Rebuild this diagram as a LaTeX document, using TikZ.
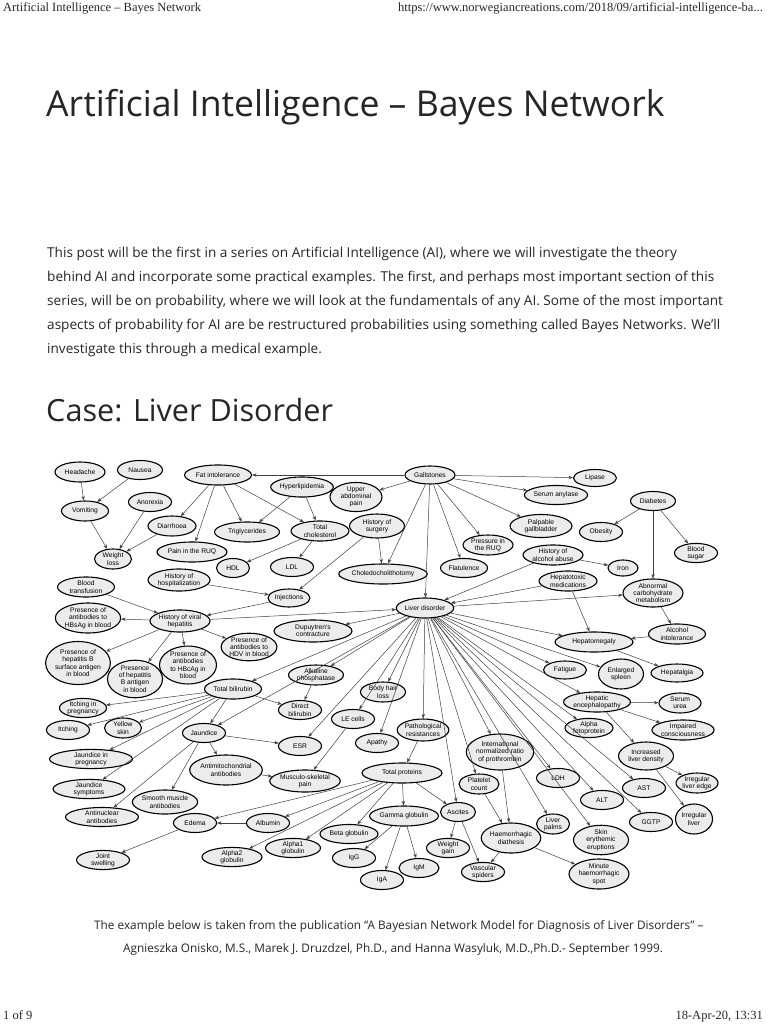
\documentclass[tikz,border=0pt]{standalone}
\usepackage{fontspec}
\setmainfont{Open Sans}
\newfontfamily\netfont{Liberation Sans}
\newfontfamily\pagefont{Liberation Serif}
\usetikzlibrary{arrows.meta,shapes.geometric}

\begin{document}
\begin{tikzpicture}[x=1pt,y=-1pt,
    bn/.style={ellipse, draw=black, line width=1.1pt, fill=gray!15, inner sep=0pt,
      align=center, font=\netfont\fontsize{6.7}{7.3}\selectfont},
    sz/.style 2 args={minimum width=#1, minimum height=#2},
    dep/.style={draw=black!75, line width=0.5pt, -{Stealth[length=4.5pt,width=3.4pt]}},
    txt/.style={anchor=base west, inner sep=0pt, text=black!85}
  ]
  % Seite
  \useasboundingbox (0,0) rectangle (768,1024);
  \fill[white] (0,0) rectangle (768,1024);

  % Kopf- und Fusszeile
  \node[txt, font=\pagefont\fontsize{12.5}{14}\selectfont] (hdl) at (3,12) {Artificial Intelligence – Bayes Network};
  \node[txt, anchor=base east, font=\pagefont\fontsize{12.5}{14}\selectfont] (hdr) at (763,12) {https://www.norwegiancreations.com/2018/09/artificial-intelligence-ba...};
  \node[txt, font=\pagefont\fontsize{12.5}{14}\selectfont] (ftl) at (3,1019) {1 of 9};
  \node[txt, anchor=base east, font=\pagefont\fontsize{12.5}{14}\selectfont] (ftr) at (763,1019) {18-Apr-20, 13:31};

  % Titel und Text
  \node[txt, font=\fontsize{35.6}{40}\selectfont] (title) at (46,117) {Artificial Intelligence – Bayes Network};
  \node[txt, font=\fontsize{13.6}{24}\selectfont] (p1) at (47,257) {This post will be the first in a series on Artificial Intelligence (AI), where we will investigate the theory};
  \node[txt, font=\fontsize{13.6}{24}\selectfont] (p2) at (47,281) {behind AI and incorporate some practical examples. The first, and perhaps most important section of this};
  \node[txt, font=\fontsize{13.6}{24}\selectfont] (p3) at (47,305) {series, will be on probability, where we will look at the fundamentals of any AI. Some of the most important};
  \node[txt, font=\fontsize{13.6}{24}\selectfont] (p4) at (47,329) {aspects of probability for AI are be restructured probabilities using something called Bayes Networks. We’ll};
  \node[txt, font=\fontsize{13.6}{24}\selectfont] (p5) at (47,353) {investigate this through a medical example.};
  \node[txt, font=\fontsize{30.6}{34}\selectfont] (case) at (46,421) {Case: Liver Disorder};

  % Knoten oben links
  \node[bn, sz={50}{20}] (headache) at (80,472) {Headache};
  \node[bn, sz={45}{19}] (nausea) at (140,470) {Nausea};
  \node[bn, sz={67}{20}] (fatint) at (218,475) {Fat intolerance};
  \node[bn, sz={47}{20}] (vomit) at (85,511) {Vomiting};
  \node[bn, sz={43}{19}] (anorex) at (150,502) {Anorexia};
  \node[bn, sz={48}{20}] (diarr) at (172,526) {Diarrhoea};
  \node[bn, sz={65}{20}] (trigly) at (247,532) {Triglycerides};
  \node[bn, sz={37}{20}] (wloss) at (113,559) {Weight\\loss};
  \node[bn, sz={70}{20}] (painruq) at (192,552) {Pain in the RUQ};
  \node[bn, sz={33}{19}] (hdl) at (233,568) {HDL};
  \node[bn, sz={62}{22}] (hosp) at (179,580) {History of\\hospitalization};
  \node[bn, sz={57}{20}] (transf) at (86,587) {Blood\\transfusion};
  \node[bn, sz={57}{20}] (hyperl) at (302,487) {Hyperlipidemia};
  \node[bn, sz={58}{20}] (totchol) at (320,531) {Total\\cholesterol};
  \node[bn, sz={43}{19}] (ldl) at (292,567) {LDL};
  \node[bn, sz={42}{18}] (inject) at (289,598) {Injections};

  % Knoten oben Mitte
  \node[bn, sz={50}{18}] (gall) at (430,475) {Gallstones};
  \node[bn, sz={52}{25}] (upper) at (356,497) {Upper\\abdominal\\pain};
  \node[bn, sz={55}{24}] (surg) at (377,526) {History of\\surgery};
  \node[bn, sz={72}{20}] (chole) at (383,574) {Choledocholithotomy};
  \node[bn, sz={47}{19}] (flat) at (464,568) {Flatulence};
  \node[bn, sz={50}{20}] (pressruq) at (488,545) {Pressure in\\the RUQ};

  % Knoten oben rechts
  \node[bn, sz={43}{17}] (lipase) at (595,478) {Lipase};
  \node[bn, sz={57}{19}] (amyl) at (556,495) {Serum anylase};
  \node[bn, sz={45}{19}] (diab) at (653,501) {Diabetes};
  \node[bn, sz={62}{23}] (palp) at (541,526) {Palpable\\gallbladder};
  \node[bn, sz={43}{19}] (obes) at (601,532) {Obesity};
  \node[bn, sz={43}{19}] (bsugar) at (696,553) {Blood\\sugar};
  \node[bn, sz={60}{20}] (alco) at (553,555) {History of\\alcohol abuse};
  \node[bn, sz={30}{16}] (iron) at (623,568) {Iron};
  \node[bn, sz={58}{20}] (hepmed) at (568,581) {Hepatotoxic\\medications};
  \node[bn, sz={60}{28}] (carb) at (653,593) {Abnormal\\carbohydrate\\metabolism};

  % Mitte
  \node[bn, sz={53}{20}] (liver) at (425,608) {Liver disorder};
  \node[bn, sz={62}{30}] (antihbs) at (88,618) {Presence of\\antibodies to\\HBsAg in blood};
  \node[bn, sz={57}{22}] (viral) at (180,621) {History of viral\\hepatitis};
  \node[bn, sz={57}{43}] (hbsag) at (78,663) {Presence of\\hepatitis B\\surface antigen\\in blood};
  \node[bn, sz={55}{35}] (hbeag) at (135,679) {Presence\\of hepatitis\\B antigen\\in blood};
  \node[bn, sz={57}{33}] (antihbc) at (188,665) {Presence of\\antibodies\\to HBcAg in\\blood};
  \node[bn, sz={55}{27}] (antihdv) at (249,647) {Presence of\\antibodies to\\HDV in blood};
  \node[bn, sz={78}{22}] (dupuy) at (313,631) {Dupuytren's\\contracture};
  \node[bn, sz={55}{20}] (alkp) at (316,675) {Alkaline\\phosphatase};
  \node[bn, sz={57}{20}] (totbili) at (233,689) {Total bilirubin};
  \node[bn, sz={45}{20}] (hair) at (383,692) {Body hair\\loss};
  \node[bn, sz={43}{19}] (dbili) at (300,710) {Direct\\bilirubin};
  \node[bn, sz={47}{19}] (itchpreg) at (83,708) {Itching in\\pregnancy};
  \node[bn, sz={43}{19}] (itch) at (68,730) {Itching};
  \node[bn, sz={37}{20}] (yellow) at (123,728) {Yellow\\skin};
  \node[bn, sz={43}{19}] (jaund) at (204,733) {Jaundice};
  \node[bn, sz={43}{19}] (lecells) at (353,719) {LE cells};
  \node[bn, sz={44}{22}] (pathres) at (423,730) {Pathological\\resistances};
  \node[bn, sz={43}{19}] (apathy) at (377,743) {Apathy};
  \node[bn, sz={43}{19}] (esr) at (300,746) {ESR};
  \node[bn, sz={64}{36}] (inr) at (500,752) {International\\normalized ratio\\of prothrombin};

  % rechts
  \node[bn, sz={57}{20}] (alcint) at (677,634) {Alcohol\\intolerance};
  \node[bn, sz={78}{20}] (hepmeg) at (594,642) {Hepatomegaly};
  \node[bn, sz={43}{18}] (fatig) at (565,670) {Fatigue};
  \node[bn, sz={45}{30}] (spleen) at (621,674) {Enlarged\\spleen};
  \node[bn, sz={52}{18}] (hepalg) at (677,673) {Hepatalgia};
  \node[bn, sz={65}{20}] (enceph) at (597,702) {Hepatic\\encephalopathy};
  \node[bn, sz={42}{20}] (urea) at (680,703) {Serum\\urea};
  \node[bn, sz={48}{19}] (afp) at (589,728) {Alpha\\fetoprotein};
  \node[bn, sz={62}{20}] (impair) at (683,730) {Impaired\\consciousness};
  \node[bn, sz={55}{28}] (density) at (646,756) {Increased\\liver density};
  \node[bn, sz={43}{19}] (ldh) at (558,778) {LDH};
  \node[bn, sz={43}{19}] (ast) at (644,788) {AST};
  \node[bn, sz={42}{20}] (irredge) at (697,783) {Irregular\\liver edge};
  \node[bn, sz={43}{19}] (alt) at (602,800) {ALT};
  \node[bn, sz={33}{20}] (palms) at (553,824) {Liver\\palms};
  \node[bn, sz={43}{19}] (ggtp) at (651,822) {GGTP};
  \node[bn, sz={37}{30}] (irrliver) at (694,819) {Irregular\\liver};
  \node[bn, sz={55}{28}] (skin) at (601,840) {Skin\\erythemic\\eruptions};
  \node[bn, sz={57}{30}] (haemd) at (511,838) {Haemorrhagic\\diathesis};
  \node[bn, sz={60}{30}] (spot) at (599,874) {Minute\\haemorrhagic\\spot};

  % unten
  \node[bn, sz={83}{19}] (jpreg) at (91,759) {Jaundice in\\pregnancy};
  \node[bn, sz={72}{30}] (amito) at (226,770) {Antimitochondrial\\antibodies};
  \node[bn, sz={72}{19}] (jsymp) at (89,789) {Jaundice\\symptoms};
  \node[bn, sz={60}{24}] (smooth) at (165,802) {Smooth muscle\\antibodies};
  \node[bn, sz={73}{19}] (antinuc) at (102,817) {Antinuclear\\antibodies};
  \node[bn, sz={43}{19}] (edema) at (195,823) {Edema};
  \node[bn, sz={43}{19}] (albumin) at (268,823) {Albumin};
  \node[bn, sz={53}{19}] (joint) at (103,860) {Joint\\swelling};
  \node[bn, sz={60}{19}] (alphatwo) at (232,857) {Alpha2\\globulin};
  \node[bn, sz={70}{22}] (musc) at (305,781) {Musculo-skeletal\\pain};
  \node[bn, sz={80}{20}] (totprot) at (402,773) {Total proteins};
  \node[bn, sz={40}{20}] (platelet) at (479,784) {Platelet\\count};
  \node[bn, sz={65}{20}] (gamma) at (404,816) {Gamma globulin};
  \node[bn, sz={35}{19}] (ascites) at (458,812) {Ascites};
  \node[bn, sz={58}{19}] (beta) at (349,834) {Beta globulin};
  \node[bn, sz={55}{19}] (alphaone) at (293,848) {Alpha1\\globulin};
  \node[bn, sz={43}{19}] (wgain) at (448,848) {Weight\\gain};
  \node[bn, sz={43}{19}] (igg) at (354,858) {IgG};
  \node[bn, sz={40}{19}] (igm) at (419,868) {IgM};
  \node[bn, sz={43}{19}] (iga) at (382,880) {IgA};
  \node[bn, sz={43}{19}] (vasc) at (483,872) {Vascular\\spiders};

  % Kanten
  \foreach \a/\b in {headache/vomit, nausea/vomit, vomit/wloss, anorex/wloss, diarr/wloss,
      gall/fatint, fatint/diarr, fatint/painruq, fatint/trigly, fatint/totchol,
      hyperl/trigly, hyperl/totchol, totchol/hdl, totchol/ldl,
      gall/upper, gall/chole, gall/liver, gall/flat, gall/pressruq, gall/palp, gall/amyl, gall/lipase,
      surg/chole, surg/inject, hosp/inject, inject/viral, transf/viral,
      viral/antihbs, viral/hbsag, viral/hbeag, viral/antihbc, viral/antihdv, viral/liver,
      alco/iron, alco/liver, hepmed/liver, hepmed/hepmeg,
      diab/obes, diab/bsugar, diab/carb, liver/carb, carb/alcint, alcint/hepmeg, hepmeg/hepalg,
      liver/dupuy, liver/alkp, liver/totbili, liver/jaund, liver/esr, liver/hair, liver/lecells,
      liver/apathy, liver/pathres, liver/inr, liver/platelet, liver/ascites, liver/palms,
      liver/skin, liver/ldh, liver/alt, liver/ast, liver/ggtp, liver/afp, liver/enceph,
      liver/fatig, liver/spleen, liver/hepmeg,
      enceph/urea, enceph/impair, enceph/density, density/irredge, density/irrliver,
      alkp/dbili, totbili/dbili,
      totbili/itchpreg, totbili/itch, totbili/yellow, totbili/jaund, totbili/jpreg, totbili/jsymp,
      jaund/amito, jaund/smooth, jaund/antinuc, jaund/esr, amito/musc, lecells/musc,
      totprot/edema, totprot/albumin, totprot/alphatwo, totprot/alphaone, totprot/beta,
      totprot/gamma, totprot/ascites, albumin/edema, edema/joint,
      gamma/igg, gamma/iga, gamma/igm, ascites/wgain, ascites/vasc, pathres/totprot,
      platelet/haemd, inr/haemd, haemd/spot, haemd/vasc}
    \draw[dep] (\a) -- (\b);

  % Quelle
  \node[txt, font=\fontsize{11.8}{14}\selectfont] (cap1) at (94,929) {The example below is taken from the publication “A Bayesian Network Model for Diagnosis of Liver Disorders” –};
  \node[txt, font=\fontsize{11.8}{14}\selectfont] (cap2) at (123,952) {Agnieszka Onisko, M.S., Marek J. Druzdzel, Ph.D., and Hanna Wasyluk, M.D.,Ph.D.- September 1999.};
\end{tikzpicture}
\end{document}
